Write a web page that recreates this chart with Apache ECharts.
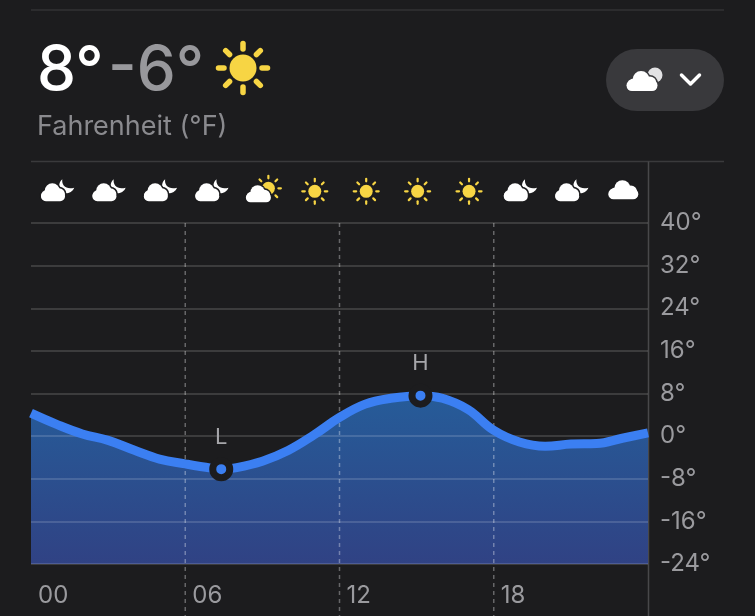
<!DOCTYPE html>
<html>
<head>
<meta charset="utf-8">
<style>
  html, body { margin: 0; padding: 0; background: #1c1c1e; }
  #chart { width: 755px; height: 616px; }
</style>
<script src="https://cdn.jsdelivr.net/npm/echarts@6/dist/echarts.min.js"></script>
</head>
<body>
<div id="chart"></div>
<script>
var hours = [0, 1, 2, 3, 4, 5, 6, 7, 7.4, 8, 9, 10, 11, 12, 13, 14, 15.15, 16, 17, 18, 19, 20, 21, 22, 23, 24];
var temps = [4.3, 2.2, 0.4, -0.8, -2.6, -4.3, -5.2, -6.0, -6.2, -5.9, -4.7, -2.7, 0.2, 3.5, 6.0, 7.1, 7.6, 7.1, 5.0, 1.1, -1.1, -1.9, -1.5, -1.4, -0.4, 0.6];
var lowPoint = [7.4, -6.2];
var highPoint = [15.15, 7.6];
var guideHours = [6, 12, 18];
var iconHours = [1, 3, 5, 7, 9, 11, 13, 15, 17, 19, 21, 23];
var iconKinds = ['moon', 'moon', 'moon', 'moon', 'partsun', 'sun', 'sun', 'sun', 'sun', 'moon', 'moon', 'cloud'];

var BG = '#1c1c1e';
var PILL = '#39393c';
var SUN = '#f7d544';
var FONT = 'Inter, "Noto Sans", sans-serif';
var MOON = 'M4 0C3 6 8 10 16 8C14 13 7 15 3 12C0 9 0 3 4 0Z';

// cloud made of plain shapes, so it works in both graphic and custom series
function cloud(cx, cy, w, h, halo) {
  var parts = [
    { type: 'rect', shape: { x: cx - w / 2, y: cy - h * 0.05, width: w, height: h * 0.55, r: h * 0.27 } },
    { type: 'circle', shape: { cx: cx - w * 0.03, cy: cy - h * 0.08, r: h * 0.42 } },
    { type: 'circle', shape: { cx: cx + w * 0.25, cy: cy + h * 0.1, r: h * 0.33 } },
    { type: 'circle', shape: { cx: cx - w * 0.27, cy: cy + h * 0.18, r: h * 0.3 } }
  ];
  var under = parts.map(function (p) {
    return { type: p.type, shape: p.shape, style: { fill: halo, stroke: halo, lineWidth: 3 } };
  });
  var over = parts.map(function (p) {
    return { type: p.type, shape: p.shape, style: { fill: '#fff' } };
  });
  return under.concat(over);
}

function sun(cx, cy, r, inner, outer, w) {
  var out = [{ type: 'circle', shape: { cx: cx, cy: cy, r: r }, style: { fill: SUN } }];
  for (var i = 0; i < 8; i++) {
    var a = i * Math.PI / 4, c = Math.cos(a), s = Math.sin(a);
    out.push({
      type: 'line',
      shape: { x1: cx + c * inner, y1: cy + s * inner, x2: cx + c * outer, y2: cy + s * outer },
      style: { stroke: SUN, lineWidth: w, lineCap: 'round' }
    });
  }
  return out;
}

function weatherIcon(kind, x, y) {
  if (kind === 'sun') return sun(x, y, 6.5, 10, 12.5, 2.2);
  if (kind === 'cloud') return cloud(x, y - 1.5, 30, 19, BG);
  if (kind === 'partsun') {
    return sun(x + 5, y - 3, 6.5, 10, 12.5, 2.2).concat(cloud(x - 5, y + 2.5, 25, 17, BG));
  }
  var moon = { type: 'path', shape: { pathData: MOON, layout: 'cover', x: x + 1.5, y: y - 12, width: 15, height: 14 }, style: { fill: '#fff' } };
  return [moon].concat(cloud(x - 4.7, y + 1, 24, 18, BG));
}

var chart = echarts.init(document.getElementById('chart'));

var option = {
  backgroundColor: BG,
  animation: false,
  grid: [
    { left: 31, top: 223, width: 617, height: 341 },
    { left: 31, top: 162, width: 617, height: 61 }
  ],
  xAxis: [
    {
      type: 'value', min: 0, max: 24, interval: 6, gridIndex: 0,
      axisLine: { show: false }, axisTick: { show: false }, splitLine: { show: false },
      axisLabel: {
        color: '#9a9a9e', fontSize: 24, fontFamily: FONT, align: 'left', margin: 20, padding: [0, 0, 0, 7],
        showMaxLabel: false,
        formatter: function (v) { return (v < 10 ? '0' : '') + v; }
      }
    },
    { type: 'value', min: 0, max: 24, gridIndex: 1, show: false }
  ],
  yAxis: [
    {
      type: 'value', min: -24, max: 40, interval: 8, position: 'right', gridIndex: 0, z: 2,
      axisLine: { show: false }, axisTick: { show: false },
      splitLine: { lineStyle: { color: 'rgba(255,255,255,0.14)', width: 2 } },
      axisLabel: { color: '#9a9a9e', fontSize: 24, fontFamily: FONT, margin: 12, padding: [3, 0, 0, 0], formatter: '{value}°' }
    },
    { type: 'value', min: 0, max: 1, gridIndex: 1, show: false }
  ],
  series: [
    {
      type: 'line', z: 1, silent: true, showSymbol: false, smooth: 0.4,
      data: hours.map(function (h, i) { return [h, temps[i]]; }),
      lineStyle: { width: 0 },
      areaStyle: {
        origin: 'start', opacity: 1,
        color: new echarts.graphic.LinearGradient(0, 0, 0, 1, [
          { offset: 0, color: '#265c99' },
          { offset: 1, color: '#304284' }
        ])
      }
    },
    {
      type: 'custom', z: 2, silent: true, clip: false,
      data: guideHours.map(function (h) { return [h]; }),
      renderItem: function (params, api) {
        var top = api.coord([api.value(0), 40]);
        return {
          type: 'line',
          shape: { x1: top[0], y1: top[1], x2: top[0], y2: api.getHeight() },
          style: { stroke: 'rgba(255,255,255,0.33)', lineWidth: 1.5, lineDash: [4, 4] }
        };
      }
    },
    {
      type: 'line', z: 3, showSymbol: false, smooth: 0.4,
      data: hours.map(function (h, i) { return [h, temps[i]]; }),
      lineStyle: { color: '#3b7ff2', width: 9 }
    },
    {
      type: 'scatter', z: 4, symbolSize: 17,
      data: [
        { value: lowPoint, label: { formatter: 'L' } },
        { value: highPoint, label: { formatter: 'H' } }
      ],
      itemStyle: { color: '#3b7ff2', borderColor: BG, borderWidth: 7, opacity: 1 },
      label: { show: true, position: 'top', distance: 9, color: '#a6a6aa', fontSize: 22, fontFamily: FONT }
    },
    {
      type: 'custom', xAxisIndex: 1, yAxisIndex: 1, silent: true, clip: false,
      data: iconHours.map(function (h) { return [h, 0.52]; }),
      encode: { x: 0, y: 1 },
      renderItem: function (params, api) {
        var p = api.coord([api.value(0), api.value(1)]);
        return { type: 'group', children: weatherIcon(iconKinds[params.dataIndex], p[0] + 1, p[1]) };
      }
    }
  ],
  graphic: [
    { type: 'line', shape: { x1: 31, y1: 10, x2: 724, y2: 10 }, style: { stroke: '#323234', lineWidth: 1.5 } },
    { type: 'line', shape: { x1: 31, y1: 161.5, x2: 724, y2: 161.5 }, style: { stroke: '#3a3a3c', lineWidth: 1.5 } },
    { type: 'line', shape: { x1: 648.5, y1: 161.5, x2: 648.5, y2: 616 }, style: { stroke: '#48484a', lineWidth: 1.5 } },
    { type: 'text', x: 37, y: 71, style: { text: '8°', fill: '#fff', font: '500 62px ' + FONT, textVerticalAlign: 'middle' } },
    { type: 'text', x: 108, y: 71, style: { text: '-6°', fill: '#98989c', font: '500 62px ' + FONT, textVerticalAlign: 'middle' } },
    { type: 'text', x: 37, y: 127, style: { text: 'Fahrenheit (°F)', fill: '#8a8a8e', font: '27px ' + FONT, textVerticalAlign: 'middle' } },
    { type: 'group', children: sun(243, 68, 13.5, 19, 24.5, 5.5) },
    { type: 'rect', shape: { x: 606, y: 49, width: 118, height: 62, r: 31 }, style: { fill: PILL } },
    { type: 'circle', shape: { cx: 655, cy: 75, r: 7.5 }, style: { fill: '#e2e2e4' } },
    { type: 'group', children: cloud(642, 81, 31, 20, PILL) },
    { type: 'polyline', shape: { points: [[681.5, 75], [690.5, 84], [699.5, 75]] }, style: { stroke: '#fff', fill: null, lineWidth: 3.5, lineCap: 'round', lineJoin: 'round' } }
  ]
};

chart.setOption(option);
</script>
</body>
</html>
